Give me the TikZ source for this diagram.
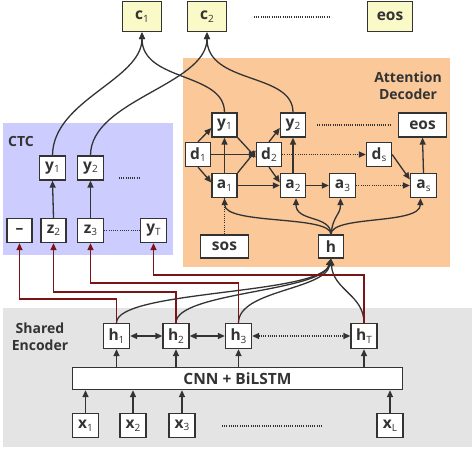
\documentclass[tikz,border=0pt]{standalone}
\usepackage{fontspec}
\setmainfont{Open Sans}
\usetikzlibrary{arrows.meta}
\definecolor{ink}{HTML}{333333}
\definecolor{cyel}{HTML}{FAF9C8}
\definecolor{corg}{HTML}{FAC899}
\definecolor{cblu}{HTML}{CCCCFF}
\definecolor{cgry}{HTML}{E4E4E4}
\definecolor{cred}{HTML}{7B1416}
\newcommand{\lb}[2]{#1\raisebox{-0.3ex}{\fontsize{10}{10}\selectfont\mdseries #2}}
\begin{document}
\begin{tikzpicture}[x=1pt,y=-1pt,
  box/.style={draw=ink,fill=white,line width=1.3pt,minimum width=25pt,minimum height=24pt,
    inner sep=0pt,font=\fontsize{15.5}{15.5}\selectfont\bfseries,text=ink},
  topbox/.style={box,fill=cyel,minimum width=39pt,minimum height=30pt},
  tip/.style={},
  arr/.style={draw=ink,line width=1.3pt,-{Triangle[length=7pt,width=6pt]}},
  darr/.style={arr,{Triangle[length=7pt,width=6pt]}-{Triangle[length=7pt,width=6pt]}},
  dots/.style={draw=ink,line width=1.1pt,dash pattern=on 1pt off 1.2pt},
  redarr/.style={draw=cred,line width=1.3pt,-{Triangle[length=7pt,width=6pt]}},
  lab/.style={font=\fontsize{14}{17}\selectfont\bfseries,text=ink,align=center,inner sep=0pt}]
\useasboundingbox (0,0) rectangle (474,449);
% regions
\fill[corg] (183,58) rectangle (450,267);
\fill[cblu] (3,123) rectangle (173,255);
\fill[cgry] (3,308) rectangle (472,447);
\node[lab] (tatt) at (408,86) {Attention\\Decoder};
\node[lab] (tctc) at (21,142) {CTC};
\node[lab] (tenc) at (40,337) {Shared\\Encoder};
% top outputs
\node[topbox] (c1) at (142,16.5) {\lb{c}{1}};
\node[topbox] (c2) at (207,16.5) {\lb{c}{2}};
\node[topbox,minimum width=45pt] (eost) at (390,16.5) {eos};
\draw[dots] (254,17) -- (330,17);
% decoder
\node[box] (dy1) at (224.5,125) {\lb{y}{1}};
\node[box] (dy2) at (293,125) {\lb{y}{2}};
\node[box,minimum width=48pt] (eos) at (422.5,125) {eos};
\node[box] (d1) at (198,154.5) {\lb{d}{1}};
\node[box] (d2) at (269,154.5) {\lb{d}{2}};
\node[box] (ds) at (379,154.5) {\lb{d}{s}};
\node[box] (a1) at (224.5,185.5) {\lb{a}{1}};
\node[box] (a2) at (293,185.5) {\lb{a}{2}};
\node[box,minimum width=26pt] (a3) at (342.5,185.5) {\lb{a}{3}};
\node[box,minimum width=26pt] (as) at (423.5,185.5) {\lb{a}{s}};
\node[box,minimum width=48pt,minimum height=23pt] (sos) at (224.5,246.5) {sos};
\node[box,minimum height=23pt] (h) at (331,246.5) {h};
\draw[arr] (d1.north) -- ([yshift=-3pt]dy1.west);
\draw[arr] (d1.south) -- ([yshift=3pt]a1.west);
\draw[arr] (d1.east) -- (d2.west);
\draw[arr] (a1.north) -- (dy1.south);
\draw[arr] (a1.north east) -- ([yshift=4pt]d2.west);
\draw[arr] (dy1.south east) -- ([yshift=-3pt]d2.west);
\draw[arr] (a1.east) -- (a2.west);
\draw[arr] (d2.north) -- ([yshift=-3pt]dy2.west);
\draw[arr] (d2.south) -- ([yshift=3pt]a2.west);
\draw[arr,dash pattern=on 1pt off 1.2pt] (d2.east) -- (ds.west);
\draw[arr] (a2.north) -- (dy2.south);
\draw[arr] (a2.east) -- (a3.west);
\draw[arr,dash pattern=on 1pt off 1.2pt] (a3.east) -- (as.west);
\draw[arr] (ds.east) -- ([yshift=6pt]as.west);
\draw[arr] (as.north) -- (eos.south);
\draw[dots] (dy2.east) ++(11,0) -- ([xshift=-6pt]eos.west);
\draw[dots] (sos.north) -- (a1.south);
\draw[arr] (h.north) .. controls (331,215) and (225,225) .. (a1.south);
\draw[arr] (h.north) .. controls (331,215) and (296,222) .. ([xshift=3pt]a2.south);
\draw[arr] (h.north) .. controls (333,215) and (340.5,215) .. ([xshift=-2pt]a3.south);
\draw[arr] (h.north) .. controls (331,215) and (420,225) .. ([xshift=-3pt]as.south);
% CTC
\node[box,minimum width=26pt] (cy1) at (52.5,168) {\lb{y}{1}};
\node[box,minimum width=26pt] (cy2) at (90.5,168) {\lb{y}{2}};
\draw[dots] (119,178) -- (141,178);
\node[box] (dash) at (19.5,230.5) {--};
\node[box] (z2) at (53.5,230.5) {\lb{z}{2}};
\node[box,minimum width=26pt] (z3) at (90.5,230.5) {\lb{z}{3}};
\node[box,minimum width=26pt] (yT) at (153.5,230.5) {\lb{y}{T}};
\draw[dots] (z3.east) -- (yT.west);
\draw[arr] (z2.north) -- (cy1.south);
\draw[arr] (z3.north) -- (cy2.south);
% outputs to c
\draw[arr] (cy1.north) .. controls (53,100) and (142,80) .. (c1.south);
\draw[arr] (dy1.north) .. controls (224.5,72) and (142,82) .. (c1.south);
\draw[arr] (cy2.north) .. controls (90.5,100) and (207,85) .. (c2.south);
\draw[arr] (dy2.north) .. controls (293,72) and (207,85) .. (c2.south);
% encoder
\node[box,minimum width=26pt,minimum height=25pt] (h1) at (116.5,336) {\lb{h}{1}};
\node[box,minimum width=26pt,minimum height=25pt] (h2) at (176,336) {\lb{h}{2}};
\node[box,minimum width=26pt,minimum height=25pt] (h3) at (238.5,336) {\lb{h}{3}};
\node[box,minimum width=26pt,minimum height=25pt] (hT) at (364,336) {\lb{h}{T}};
\draw[darr] (h1.east) -- (h2.west);
\draw[darr] (h2.east) -- (h3.west);
\draw[darr,dash pattern=on 1pt off 1.2pt] (h3.east) -- (hT.west);
\node[box,minimum width=330pt,minimum height=22pt] (cnn) at (237.5,378.5) {CNN + BiLSTM};
\draw[arr] (cnn.north -| h1) -- (h1.south);
\draw[arr] (cnn.north -| h2) -- (h2.south);
\draw[arr] (cnn.north -| h3) -- (h3.south);
\draw[arr] (cnn.north -| hT) -- (hT.south);
\node[box,minimum width=26pt] (x1) at (85.5,425.5) {\lb{x}{1}};
\node[box,minimum width=26pt] (x2) at (133,425.5) {\lb{x}{2}};
\node[box,minimum width=26pt] (x3) at (182,425.5) {\lb{x}{3}};
\node[box,minimum width=26pt] (xL) at (390,425.5) {\lb{x}{L}};
\draw[dots] (222,426) -- (323,426);
\foreach \n in {x1,x2,x3,xL} \draw[arr] (\n.north) -- (cnn.south -| \n);
% encoder to h
\draw[arr] (h1.north) .. controls (116.5,290) and (320,295) .. (h.south);
\draw[arr] (h2.north) .. controls (176,292) and (322,292) .. (h.south);
\draw[arr] (h3.north) .. controls (238.5,290) and (325,290) .. (h.south);
\draw[arr] (hT.north) .. controls (364,295) and (333,290) .. (h.south);
% encoder to CTC (red)
\draw[redarr] (h1.north) -- ++(0,-24) -| (dash.south);
\draw[redarr] (h2.north) -- ++(0,-31) -| (z2.south);
\draw[redarr] (h3.north) -- ++(0,-40) -| (z3.south);
\draw[redarr] (hT.north) -- ++(0,-48) -| (yT.south);
\end{tikzpicture}
\end{document}
